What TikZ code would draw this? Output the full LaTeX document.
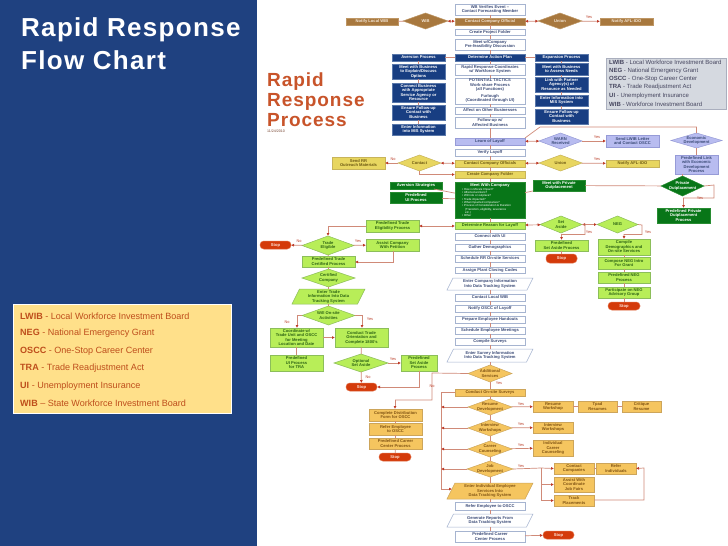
\documentclass[tikz,border=0pt]{standalone}
\usepackage{fontspec}
\setmainfont{Liberation Sans}
\newfontfamily\spacedfont[LetterSpace=5]{Liberation Sans}
\usetikzlibrary{shapes.geometric,arrows.meta}
\definecolor{bgnavy}{HTML}{1F4180}
\definecolor{lnk}{HTML}{D08A78}
\definecolor{arh}{HTML}{BE3A28}
\definecolor{tnavy}{HTML}{3C4C78}
\definecolor{wbd}{HTML}{A6B4D0}
\definecolor{brf}{HTML}{A8783E}
\definecolor{brd}{HTML}{BE9664}
\definecolor{brt}{HTML}{F3E6D6}
\definecolor{nvf}{HTML}{183E82}
\definecolor{nvd}{HTML}{5A78AA}
\definecolor{lvf}{HTML}{B8BCF0}
\definecolor{lvd}{HTML}{969BD7}
\definecolor{ylf}{HTML}{E8D660}
\definecolor{yld}{HTML}{C8B45A}
\definecolor{ylt}{HTML}{6E5A14}
\definecolor{gnf}{HTML}{087618}
\definecolor{gnd}{HTML}{288C32}
\definecolor{lmf}{HTML}{B8EE58}
\definecolor{lmd}{HTML}{8CBE5A}
\definecolor{lmt}{HTML}{2D6414}
\definecolor{orf}{HTML}{F5C55F}
\definecolor{ord}{HTML}{CDA55A}
\definecolor{ort}{HTML}{825514}
\definecolor{stf}{HTML}{D43A0A}
\definecolor{std}{HTML}{E16E46}
\definecolor{stt}{HTML}{FCE6DC}
\definecolor{labt}{HTML}{BE4632}
\definecolor{pant}{HTML}{BE4E1C}
\definecolor{panf}{HTML}{FFE08A}
\definecolor{grt}{HTML}{46465F}
\definecolor{grf}{HTML}{D5D9E0}
\definecolor{grd}{HTML}{AAAFBE}
\definecolor{bigt}{HTML}{C8542A}
\definecolor{datet}{HTML}{784632}
\tikzset{
 base/.style={inner sep=0pt,outer sep=0pt,align=center,line width=.5pt,font=\fontsize{4.1}{4.5}\selectfont\bfseries},
 whitebox/.style={base,fill=white,draw=wbd,text=tnavy},
 brownbox/.style={base,fill=brf,draw=brd,text=brt},
 navybox/.style={base,fill=nvf,draw=nvd,text=white},
 lavbox/.style={base,fill=lvf,draw=lvd,text=tnavy},
 yelbox/.style={base,fill=ylf,draw=yld,text=ylt},
 grnbox/.style={base,fill=gnf,draw=gnd,text=white},
 limebox/.style={base,fill=lmf,draw=lmd,text=lmt},
 orgbox/.style={base,fill=orf,draw=ord,text=ort},
 stopbox/.style={base,fill=stf,draw=std,rounded corners=3.8pt,text=stt},
 dmshape/.style={shape=diamond,aspect=1},
 cn/.style={draw=lnk,line width=.7pt},
 ar/.style={cn,-{Latex[length=3pt,width=3pt,color=arh]}},
 ar2/.style={cn,{Latex[length=3pt,width=3pt,color=arh]}-{Latex[length=3pt,width=3pt,color=arh]}},
 lab/.style={inner sep=0pt,font=\fontsize{3.9}{4.5}\selectfont,text=labt},
 panelrow/.style={inner sep=0pt,anchor=west,font=\fontsize{9.05}{10}\selectfont,text=pant},
 grayrow/.style={inner sep=0pt,anchor=west,font=\fontsize{6}{6.5}\selectfont,text=grt},
 titlerow/.style={inner sep=0pt,anchor=base west,font=\fontsize{26}{28}\selectfont\spacedfont\bfseries,text=white},
 bigrow/.style={inner sep=0pt,anchor=base west,font=\fontsize{19}{20}\selectfont\spacedfont\bfseries,text=bigt},
}
\newcommand{\bx}[7]{\node[#2,minimum width={(#5-#3)*1pt},minimum height={(#6-#4)*1pt}] (#1) at ({(#3+#5)/2},{(#4+#6)/2}) {#7};}
\newcommand{\dm}[7]{\node[#2,dmshape,minimum width={(#5-#3)*1pt},minimum height={(#6-#4)*1pt}] (#1) at ({(#3+#5)/2},{(#4+#6)/2}) {};\node[#2,draw=none,fill=none] (#1t) at (#1) {#7};}
\newcommand{\pl}[7]{\path[#2] ({#3+(#6-#4)/2},#4) -- (#5,#4) -- ({#5-(#6-#4)/2},#6) -- (#3,#6) -- cycle;\node[#2,draw=none,fill=none,minimum width={(#5-#3)*1pt},minimum height={(#6-#4)*1pt}] (#1) at ({(#3+#5)/2},{(#4+#6)/2}) {#7};}
\begin{document}
\begin{tikzpicture}[x=1pt,y=-1pt]
\useasboundingbox (0,0) rectangle (728,546);
\fill[bgnavy] (0,0) rectangle (257,546);
\fill[white] (257,0) rectangle (728,546);
% left panel
\node[titlerow] (t1) at (21,36) {Rapid Response};
\node[titlerow] (t2) at (21,69) {Flow Chart};
\node[fill=panf,draw=white,line width=.4pt,minimum width=218pt,minimum height=109pt,inner sep=0pt,outer sep=0pt] (panel) at (122,358.5) {};
\node[panelrow] (p1) at (20,316) {\textbf{LWIB} - Local Workforce Investment Board};
\node[panelrow] (p2) at (20,333.5) {\textbf{NEG} - National Emergency Grant};
\node[panelrow] (p3) at (20,351) {\textbf{OSCC} - One-Stop Career Center};
\node[panelrow] (p4) at (20,368.5) {\textbf{TRA} - Trade Readjustment Act};
\node[panelrow] (p5) at (20,386) {\textbf{UI} - Unemployment Insurance};
\node[panelrow] (p6) at (20,403.5) {\textbf{WIB} -- State Workforce Investment Board};
% big title
\node[bigrow] (b1) at (267,86) {Rapid};
\node[bigrow] (b2) at (267,106) {Response};
\node[bigrow] (b3) at (267,126) {Process};
\node[inner sep=0pt,anchor=west,font=\fontsize{3.6}{4}\selectfont,text=datet] (date) at (267,131) {11/24/2010};
% grey legend
\node[fill=grf,draw=grd,line width=.4pt,minimum width=120pt,minimum height=51pt,inner sep=0pt,outer sep=0pt] (glegend) at (666,83.5) {};
\node[grayrow] (g1) at (609,62) {\textbf{LWIB} - Local Workforce Investment Board};
\node[grayrow] (g2) at (609,70.5) {\textbf{NEG} - National Emergency Grant};
\node[grayrow] (g3) at (609,79) {\textbf{OSCC} - One-Stop Career Center};
\node[grayrow] (g4) at (609,87) {\textbf{TRA} - Trade Readjustment Act};
\node[grayrow] (g5) at (609,95.5) {\textbf{UI} - Unemployment Insurance};
\node[grayrow] (g6) at (609,104) {\textbf{WIB} - Workforce Investment Board};
% helper coordinates
\coordinate (trunk) at (441,392);
\coordinate (noX) at (432,373);
\coordinate (noY) at (395,400);
\coordinate (warnUp) at (540,127);
\coordinate (ecoUp) at (696.5,127);
\coordinate (pdR) at (714,185);
\coordinate (pdB) at (714,198);
\coordinate (saR) at (585,225);
\coordinate (saB) at (585,234.5);
\coordinate (negR) at (642,225);
\coordinate (negB) at (642,234.5);
\coordinate (ctB) at (419,174.5);
\coordinate (jobT) at (541,468);
\coordinate (reR) at (644,468);
\coordinate (reB) at (644,500);
\coordinate (posB) at (419,387);
\coordinate (acpB) at (393,262);
\coordinate (woL) at (297,315.5);
\coordinate (woR) at (362,315.5);
\coordinate (entY) at (441,489);
\coordinate (entZ) at (452,489);
% centre column
\bx{c1}{whitebox}{455}{4}{525}{15}{WB Verifies Event --\\Contact Forecasting Member}
\bx{c2}{brownbox}{455}{18}{525}{25}{Contact Company Official}
\bx{c3}{whitebox}{455}{29}{525}{35}{Create Project Folder}
\bx{c4}{whitebox}{455}{39}{525}{50}{Meet w/Company\\Pre-feasibility Discussion}
\bx{c5}{navybox}{455}{54}{525}{61}{Determine Action Plan}
\bx{c6}{whitebox}{455}{64}{525}{75}{Rapid Response Coordinates\\w/ Workforce System}
\bx{c7}{whitebox}{455}{78}{525}{104}{POTENTIAL TACTICS\\Work-share Process\\(all Functions)\\[2pt]Furlough\\(Coordinated through UI)}
\bx{c8}{whitebox}{455}{107}{525}{114}{Affect on Other Businesses}
\bx{c9}{whitebox}{455}{117}{525}{128}{Follow-up w/\\Affected Business}
\bx{c10}{lavbox}{455}{138}{525}{145}{Learn of Layoff}
\bx{c11}{whitebox}{455}{149}{525}{156}{Verify Layoff}
\bx{c12}{yelbox}{455}{160}{525}{167}{Contact Company Officials}
\bx{c13}{yelbox}{455}{171}{525}{178}{Create Company Folder}
\bx{c14}{grnbox}{455}{182}{525}{218}{}
\node[inner sep=0pt,font=\fontsize{4.1}{4.5}\selectfont\bfseries,text=white] (c14h) at (490,185) {Meet With Company};
\node[inner sep=0pt,font=\fontsize{2.9}{3.3}\selectfont,text=white,align=left,anchor=north west] (c14t) at (462,188) {• How is Morale Impact?\\• Affected workers?\\• Will role or outplace?\\• Trade impacted?\\• What impacted companies?\\• Process of Consideration \& Duration\\\hspace*{3pt}(Transition, eligibility, severance\\\hspace*{3pt}etc.)\\• Other};
\bx{c15}{limebox}{455}{222}{525}{229}{Determine Reason for Layoff}
\bx{c16}{whitebox}{455}{233}{525}{240}{Connect with UI}
\bx{c17}{whitebox}{455}{244}{525}{251}{Gather Demographics}
\bx{c18}{whitebox}{455}{255}{525}{262}{Schedule RR On-site Services}
\bx{c19}{whitebox}{455}{267}{525}{273}{Assign Plant Closing Codes}
\pl{c20}{whitebox}{447}{278}{533}{290}{Enter Company Information\\Into Data Tracking System}
\bx{c21}{whitebox}{455}{294}{525}{301}{Contact Local WIB}
\bx{c22}{whitebox}{455}{305}{525}{312}{Notify OSCC of Layoff}
\bx{c23}{whitebox}{455}{316}{525}{323}{Prepare Employee Handouts}
\bx{c24}{whitebox}{455}{327}{525}{334}{Schedule Employee Meetings}
\bx{c25}{whitebox}{455}{338}{525}{345}{Compile Surveys}
\pl{c26}{whitebox}{447}{349}{533}{362}{Enter Survey Information\\Into Data Tracking System}
\dm{c27}{orgbox}{468}{365}{512}{382}{Additional\\Services}
\bx{c28}{orgbox}{455}{389}{525}{396}{Conduct On-site Surveys}
\dm{c29}{orgbox}{468}{399}{512}{415}{Resume\\Development}
\dm{c30}{orgbox}{468}{420}{512}{436}{Interview\\Workshops}
\dm{c31}{orgbox}{468}{441}{512}{457}{Career\\Counseling}
\dm{c32}{orgbox}{467}{461}{513}{477}{Job\\Development}
\pl{c33}{orgbox}{447}{483}{533}{499}{Enter Individual Employee\\Services Into\\Data Tracking System}
\bx{c34}{whitebox}{455}{502}{525}{510}{Refer Employee to OSCC}
\pl{c35}{whitebox}{447}{514}{533}{527}{Generate Reports From\\Data Tracking System}
\bx{c36}{whitebox}{455}{531}{525}{542}{Predefined Career\\Center Process}
\bx{s1}{stopbox}{543}{531}{574}{539}{Stop}
% top row
\bx{nw}{brownbox}{346}{18}{398}{25}{Notify Local WIB}
\dm{wib}{brownbox}{403}{13}{448}{29}{WIB}
\dm{un1}{brownbox}{538}{13}{582}{29}{Union}
\bx{na1}{brownbox}{600}{18}{653}{25}{Notify AFL-IOO}
% aversion column
\bx{a1}{navybox}{392}{54}{445}{61}{Aversion Process}
\bx{a2}{navybox}{392}{64}{445}{79}{Meet with Business\\to Explain/Discuss\\Options}
\bx{a3}{navybox}{392}{83}{445}{102}{Connect Business\\with Appropriate\\Service Agency or\\Resource}
\bx{a4}{navybox}{392}{105}{445}{120}{Ensure Follow-up\\Contact with\\Business}
\bx{a5}{navybox}{392}{124}{445}{135}{Enter Information\\into MIS System}
% expansion column
\bx{e1}{navybox}{535}{54}{588}{61}{Expansion Process}
\bx{e2}{navybox}{535}{63}{588}{75}{Meet with Business\\to Assess Needs}
\bx{e3}{navybox}{535}{77}{588}{92}{Link with Partner\\Agency(s) of\\Resource as Needed}
\bx{e4}{navybox}{535}{95}{588}{106}{Enter Information into\\MIS System}
\bx{e5}{navybox}{535}{109}{588}{124}{Ensure Follow-up\\Contact with\\Business}
% right of layoff
\dm{warn}{lavbox}{539}{133}{582}{149}{WARN\\Received}
\bx{lwl}{lavbox}{606}{135}{659}{147}{Send LWIB Letter\\and Contact OSCC}
\dm{eco}{lavbox}{671}{133}{722}{148}{Economic\\Development}
\bx{pl1}{lavbox}{675}{155}{718}{174}{Predefined Link\\with Economic\\Development\\Process}
\dm{un2}{yelbox}{539}{155}{582}{171}{Union}
\bx{na2}{yelbox}{606}{160}{659}{167}{Notify AFL-IOO}
\bx{mp}{grnbox}{533}{180}{585}{191}{Meet with Private\\Outplacement}
\dm{pd}{grnbox}{661}{176}{704}{196}{Private\\Outplacement}
\bx{pp}{grnbox}{657}{208}{710}{223}{Predefined Private\\Outplacement\\Process}
% set aside / NEG
\dm{sa}{limebox}{540}{216}{582}{233}{Set\\Aside}
\dm{neg}{limebox}{597}{216}{638}{233}{NEG}
\bx{psa}{limebox}{535}{240}{588}{251}{Predefined\\Set Aside Process}
\bx{s2}{stopbox}{546}{254}{577}{263}{Stop}
\bx{n1}{limebox}{598}{239}{650}{255}{Compile\\Demographics and\\On-site Services}
\bx{n2}{limebox}{598}{257}{650}{269}{Compose NEG Intro\\For Grant}
\bx{n3}{limebox}{598}{272}{650}{283}{Predefined NEG\\Process}
\bx{n4}{limebox}{598}{287}{650}{298}{Participate on NEG\\Advisory Group}
\bx{s3}{stopbox}{608}{302}{640}{310}{Stop}
% contact
\bx{rr}{yelbox}{332}{157}{385}{169}{Send RR\\Outreach Materials}
\dm{ct}{yelbox}{398}{155}{441}{171}{Contact}
\bx{as}{grnbox}{390}{182}{442}{189}{Aversion Strategies}
\bx{pui}{grnbox}{390}{192}{442}{203}{Predefined\\UI Process}
% trade
\bx{pte}{limebox}{366}{220}{419}{232}{Predefined Trade\\Eligibility Process}
\dm{te}{limebox}{302}{236}{354}{255}{Trade\\Eligible}
\bx{s4}{stopbox}{260}{241}{291}{249}{Stop}
\bx{acp}{limebox}{366}{239}{419}{251}{Assist Company\\With Petition}
\bx{ptc}{limebox}{302}{256}{355}{267}{Predefined Trade\\Certified Process}
\dm{cc}{limebox}{302}{269}{355}{287}{Certified\\Company}
\pl{etd}{limebox}{292}{289}{365}{304}{Enter Trade\\Information Into Data\\Tracking System}
\dm{wo}{limebox}{302}{306}{355}{325}{Will On-site\\Activities}
\bx{cw}{limebox}{270}{328}{323}{347}{Coordinate w/\\Trade Unit and OSCC\\for Meeting\\Location and Date}
\bx{pt}{limebox}{270}{355}{323}{371}{Predefined\\UI Process\\for TRA}
\bx{ct2}{limebox}{335}{328}{388}{347}{Conduct Trade\\Orientation and\\Complete 1800's}
\dm{os}{limebox}{334}{354}{388}{372}{Optional\\Set Aside}
\bx{pos}{limebox}{401}{355}{437}{371}{Predefined\\Set Aside\\Process}
\bx{s5}{stopbox}{346}{383}{377}{391}{Stop}
% no side of services
\bx{d1}{orgbox}{369}{409}{422}{421}{Complete Distribution\\Form for OSCC}
\bx{d2}{orgbox}{369}{423}{422}{435}{Refer Employee\\to OSCC}
\bx{d3}{orgbox}{369}{438}{422}{449}{Predefined Career\\Center Process}
\bx{s6}{stopbox}{379}{453}{411}{461}{Stop}
% services
\bx{w1}{orgbox}{533}{401}{573}{412}{Resume\\Workshop}
\bx{w2}{orgbox}{578}{401}{617}{412}{Tpad\\Resumes}
\bx{w3}{orgbox}{622}{401}{661}{412}{Critique\\Resume}
\bx{w4}{orgbox}{533}{422}{573}{433}{Interview\\Workshops}
\bx{w5}{orgbox}{533}{440}{573}{456}{Individual\\Career\\Counseling}
\bx{w6}{orgbox}{554}{463}{594}{474}{Contact\\Companies}
\bx{w7}{orgbox}{596}{463}{636}{474}{Refer\\Individuals}
\bx{w8}{orgbox}{554}{477}{594}{492}{Assist With\\Coordinate\\Job Fairs}
\bx{w9}{orgbox}{554}{495}{594}{506}{Track\\Placements}
% spine
\foreach \a/\b in {c1/c2,c2/c3,c3/c4,c4/c5,c5/c6,c6/c7,c7/c8,c8/c9,c9/c10,c10/c11,c11/c12,c12/c13,c13/c14,c14/c15,c15/c16,c16/c17,c17/c18,c18/c19,c19/c20,c20/c21,c21/c22,c22/c23,c23/c24,c24/c25,c25/c26,c26/c27,c27/c28,c28/c29,c29/c30,c30/c31,c31/c32,c32/c33,c33/c34,c34/c35,c35/c36,
 a1/a2,a2/a3,a3/a4,a4/a5,e1/e2,e2/e3,e3/e4,e4/e5,psa/s2,n1/n2,n2/n3,n3/n4,n4/s3,te/ptc,ptc/cc,cc/etd,etd/wo,d1/d2,d2/d3,d3/s6,w1/w2,w2/w3,w6/w7,a1/c5,c5/e1,as/c14,pui/c14,mp/c14,mp/pd,eco/pl1,ct2/os,cw/pt,wib/nw}
 {\draw[cn] (\a) -- (\b);}
\draw[cn] (pd.north) -- (pd.north |- pl1.south);
% double-headed
\draw[ar2] (wib) -- (c2);
\draw[ar2] (c2) -- (un1);
\draw[ar2] (c10) -- (warn);
\draw[ar2] (c12) -- (un2);
\draw[ar2] (c12) -- (ct);
\draw[ar2] (c15) -- (sa);
\draw[ar2] (sa) -- (neg);
\draw[ar2] (pte.east) -- (pte.east -| c15.west);
% single-headed
\draw[ar] (un1) -- (na1);
\draw[ar] (warn) -- (lwl);
\draw[ar] (un2) -- (na2);
\draw[ar] (ct) -- (rr);
\draw[ar] (ct.south) |- (ctB) -- (ctB -| c13.west);
\draw[cn] (c10.north east) -- (warnUp) -- (ecoUp) -- (eco.north);
\draw[ar] (pd.east) -- (pdR) -- (pdB) -| (pp.north);
\draw[ar] (sa.east) -- (saR) -- (saB) -| (psa.north);
\draw[ar] (neg.east) -- (negR) -- (negB) -| (n1.north);
\draw[ar] (pte.west) -| (te.north);
\draw[ar] (te) -- (acp);
\draw[ar] (te) -- (s4);
\draw[ar] (acp.south -| acpB) -- (acpB) -- (acpB -| ptc.east);
\draw[ar] (wo.west) -- (woL) -- (woL |- cw.north);
\draw[ar] (wo.east) -- (woR) -- (woR |- ct2.north);
\draw[ar] (cw) -- (ct2);
\draw[ar] (os) -- (pos);
\draw[ar] (os) -- (s5);
\draw[ar] (pos.south -| posB) -- (posB) -- (s5.east |- posB);
% services
\draw[cn] (c27.west) -- (noX) |- (noY);
\draw[ar] (noY) -- (noY |- d1.north);
\draw[ar] (trunk -| c28.west) -- (trunk) -- (entY) -- (entZ);
\draw[ar] (c29) -- (c29 -| trunk);
\draw[ar] (c30) -- (c30 -| trunk);
\draw[ar] (c31) -- (c31 -| trunk);
\draw[ar] (c32) -- (c32 -| trunk);
\draw[ar] (c29) -- (w1);
\draw[ar] (c30) -- (w4);
\draw[ar] (c31) -- (w5);
\draw[ar] (c32.east) -- (jobT) -- (w6.west);
\draw[ar] (jobT) -- (jobT |- w8) -- (w8.west);
\draw[ar] (jobT) -- (jobT |- w9) -- (w9.west);
\draw[ar] (reB -| w9.east) -- (reB) -- (reR) -- (w7.east);
\draw[ar] (c36) -- (s1);
% labels
\node[lab] (y1) at (589,17) {Yes};
\node[lab] (y2) at (597,137) {Yes};
\node[lab] (y3) at (597,159.5) {Yes};
\node[lab] (n1l) at (393,159) {No};
\node[lab] (y4) at (700,198) {Yes};
\node[lab] (y5) at (589,232) {Yes};
\node[lab] (y6) at (648,232) {Yes};
\node[lab] (n2l) at (299,241) {No};
\node[lab] (y7) at (358,241) {Yes};
\node[lab] (n3l) at (287,322) {No};
\node[lab] (y8) at (370,319) {Yes};
\node[lab] (y9) at (393,359) {Yes};
\node[lab] (n4l) at (368,377) {No};
\node[lab] (n5l) at (432,386) {No};
\node[lab] (y10) at (499,383) {Yes};
\node[lab] (y11) at (521,404) {Yes};
\node[lab] (y12) at (521,424) {Yes};
\node[lab] (y13) at (521,445) {Yes};
\node[lab] (y14) at (521,466) {Yes};
\end{tikzpicture}
\end{document}
